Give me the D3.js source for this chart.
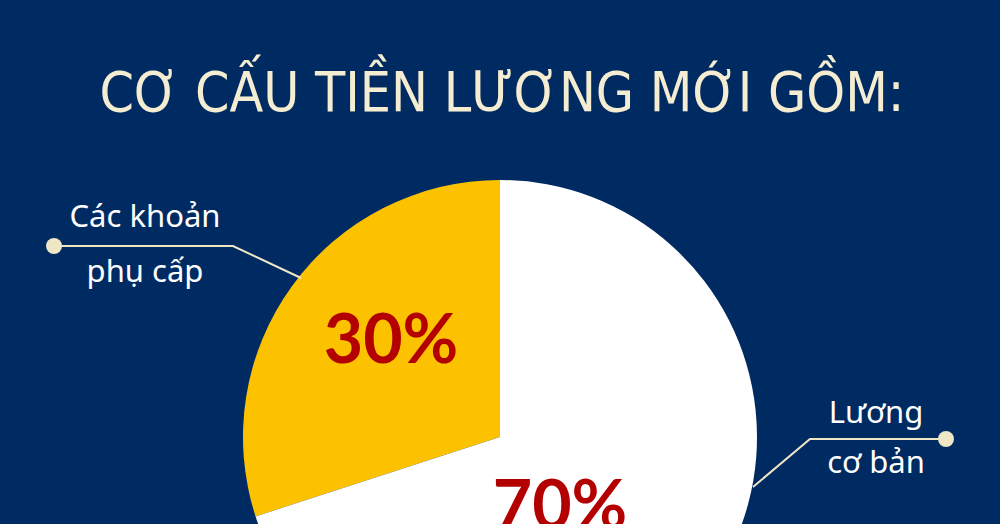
<!DOCTYPE html>
<html>
<head>
<meta charset="utf-8">
<script src="https://cdn.jsdelivr.net/npm/d3@7"></script>
<style>
  html, body { margin: 0; padding: 0; background: #002B62; overflow: hidden; }
  svg { display: block; }
</style>
</head>
<body>
<svg id="chart" width="1000" height="524"></svg>
<script>
// data
var categories = ["Các khoản phụ cấp", "Lương cơ bản"];
var shares = [30, 70];
var labelLines = [["Các khoản", "phụ cấp"], ["Lương", "cơ bản"]];
var sliceColors = ["#FCC200", "#FFFFFF"];
var title = "CƠ CẤU TIỀN LƯƠNG MỚI GỒM:";

var svg = d3.select("#chart");
var W = 1000, H = 524;

svg.append("rect").attr("width", W).attr("height", H).attr("fill", "#002B62");

// title
svg.append("text")
  .attr("x", 502)
  .attr("y", 111)
  .attr("text-anchor", "middle")
  .attr("fill", "#F4EDD2")
  .style("font-family", "'DejaVu Sans Condensed', 'Liberation Sans Narrow', Lato, sans-serif")
  .style("font-weight", 300)
  .style("font-size", "55px")
  .attr("textLength", 805)
  .attr("lengthAdjust", "spacingAndGlyphs")
  .text(title);

// pie, yellow slice runs counterclockwise from 12 o'clock
var cx = 500, cy = 437, r = 257;
var pie = d3.pie().sort(null).value(function(d){ return d; })
  .startAngle(0).endAngle(-2 * Math.PI);
var arc = d3.arc().innerRadius(0).outerRadius(r);

var g = svg.append("g").attr("transform", "translate(" + cx + "," + cy + ")");
var arcs = pie(shares);

g.selectAll("path")
  .data(arcs)
  .enter().append("path")
  .attr("d", arc)
  .attr("fill", function(d, i){ return sliceColors[i]; });

// percent labels
var pctPos = [[-109, -74], [60, 92]];
g.selectAll("text.pct")
  .data(arcs)
  .enter().append("text")
  .attr("class", "pct")
  .attr("x", function(d, i){ return pctPos[i][0]; })
  .attr("y", function(d, i){ return pctPos[i][1]; })
  .attr("text-anchor", "middle")
  .attr("fill", "#B30000")
  .style("font-family", "Lato, 'Open Sans', sans-serif")
  .style("font-weight", 700)
  .style("font-size", "68px")
  .text(function(d){ return d.data + "%"; });

// callouts
var lineColor = "#EFE6C6";
var callouts = [
  { dot: [54, 246], knee: [233, 246], end: [301, 278], tx: 145, ty: [227, 282] },
  { dot: [946, 439], knee: [810, 439], end: [753, 487], tx: 876, ty: [423, 473] }
];

callouts.forEach(function(c, i){
  svg.append("polyline")
    .attr("points", [c.dot, c.knee, c.end].map(function(p){ return p.join(","); }).join(" "))
    .attr("fill", "none")
    .attr("stroke", lineColor)
    .attr("stroke-width", 2);
  svg.append("circle")
    .attr("cx", c.dot[0]).attr("cy", c.dot[1]).attr("r", 8)
    .attr("fill", lineColor);
  labelLines[i].forEach(function(t, j){
    svg.append("text")
      .attr("x", c.tx)
      .attr("y", c.ty[j])
      .attr("text-anchor", "middle")
      .attr("fill", "#FFFFFF")
      .style("font-family", "'Noto Sans', 'Open Sans', sans-serif")
      .style("font-size", "31px")
      .text(t);
  });
});
</script>
</body>
</html>
